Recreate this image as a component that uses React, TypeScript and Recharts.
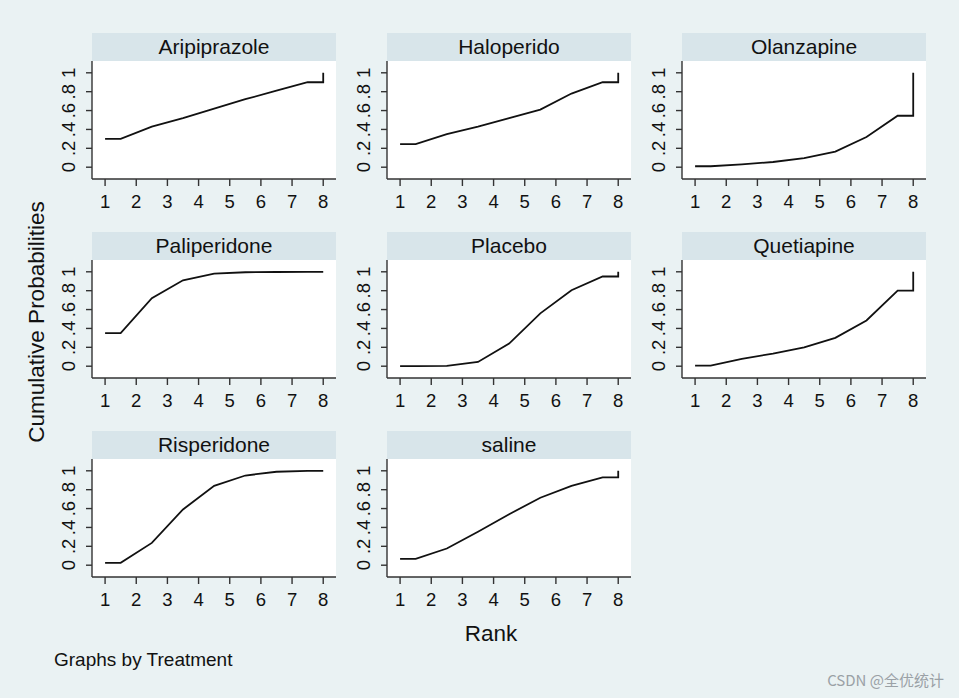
import { LineChart, Line, XAxis, YAxis, CartesianGrid } from "recharts";

// x positions of the cumulative-rank curve (flat start, midpoints, closing step at rank 8)
const rankX = [1, 1.5, 2.5, 3.5, 4.5, 5.5, 6.5, 7.5, 8, 8];
const rankTicks = [1, 2, 3, 4, 5, 6, 7, 8];
const probTicks = [0, 0.2, 0.4, 0.6, 0.8, 1];

const treatments = [
  "Aripiprazole",
  "Haloperido",
  "Olanzapine",
  "Paliperidone",
  "Placebo",
  "Quetiapine",
  "Risperidone",
  "saline",
];

const aripiprazole = [0.3, 0.3, 0.43, 0.52, 0.62, 0.72, 0.81, 0.9, 0.9, 1];
const haloperido = [0.245, 0.245, 0.35, 0.43, 0.52, 0.61, 0.78, 0.9, 0.9, 1];
const olanzapine = [0.01, 0.01, 0.03, 0.055, 0.095, 0.165, 0.32, 0.545, 0.545, 1];
const paliperidone = [0.35, 0.35, 0.72, 0.91, 0.98, 0.995, 0.998, 1, 1, 1];
const placebo = [0, 0, 0.003, 0.045, 0.24, 0.56, 0.805, 0.95, 0.95, 1];
const quetiapine = [0.007, 0.007, 0.078, 0.134, 0.2, 0.3, 0.485, 0.8, 0.8, 1];
const risperidone = [0.025, 0.025, 0.236, 0.59, 0.84, 0.95, 0.99, 1, 1, 1];
const saline = [0.067, 0.067, 0.177, 0.355, 0.54, 0.715, 0.84, 0.93, 0.93, 1];

const seriesValues = [
  aripiprazole,
  haloperido,
  olanzapine,
  paliperidone,
  placebo,
  quetiapine,
  risperidone,
  saline,
];

const FONT = 'Arial, "Liberation Sans", Helvetica, sans-serif';
const PLOT_W = 244;
const PLOT_H = 118;
const Y_AXIS_W = 60;
const X_AXIS_H = 40;
const STRIP_H = 28;

function probLabel(v: number) {
  if (v === 0) return "0";
  if (v === 1) return "1";
  return v.toFixed(1).replace(/^0/, "");
}

function YTick(props: any) {
  const { x, y, payload } = props;
  return (
    <text
      x={x}
      y={y}
      transform={`rotate(-90 ${x} ${y})`}
      textAnchor="middle"
      fontSize={18.5}
      fontFamily={FONT}
      fill="#111"
    >
      {probLabel(payload.value)}
    </text>
  );
}

function Panel({ name, values, left, top }: { name: string; values: number[]; left: number; top: number }) {
  const data = rankX.map((r, i) => ({ rank: r, p: values[i] }));
  return (
    <>
      <div
        style={{
          position: "absolute",
          left,
          top: top - STRIP_H,
          width: PLOT_W,
          height: STRIP_H,
          background: "#D8E5EA",
          fontFamily: FONT,
          fontSize: 21,
          color: "#111",
          textAlign: "center",
          lineHeight: `${STRIP_H}px`,
        }}
      >
        {name}
      </div>
      <div style={{ position: "absolute", left: left - Y_AXIS_W, top }}>
        <LineChart
          width={Y_AXIS_W + PLOT_W}
          height={PLOT_H + X_AXIS_H}
          data={data}
          margin={{ top: 0, right: 0, bottom: 0, left: 0 }}
        >
          <rect x={Y_AXIS_W} y={0} width={PLOT_W} height={PLOT_H} fill="#fff" />
          <CartesianGrid vertical={false} stroke="#E6EEF1" strokeWidth={1.5} />
          <XAxis
            type="number"
            dataKey="rank"
            domain={[0.58, 8.41]}
            ticks={rankTicks}
            interval={0}
            height={X_AXIS_H}
            tickSize={7}
            tickMargin={9}
            axisLine={{ stroke: "#333", strokeWidth: 1.4 }}
            tickLine={{ stroke: "#333", strokeWidth: 1.4 }}
            tick={{ fontSize: 18.5, fill: "#111", fontFamily: FONT }}
            allowDataOverflow
          />
          <YAxis
            type="number"
            domain={[-0.125, 1.125]}
            ticks={probTicks}
            interval={0}
            width={Y_AXIS_W}
            tickSize={6}
            tickMargin={11}
            axisLine={{ stroke: "#333", strokeWidth: 1.4 }}
            tickLine={{ stroke: "#333", strokeWidth: 1.4 }}
            tick={<YTick />}
            allowDataOverflow
          />
          <Line
            type="linear"
            dataKey="p"
            stroke="#111"
            strokeWidth={1.8}
            dot={false}
            isAnimationActive={false}
          />
        </LineChart>
      </div>
    </>
  );
}

export default function App() {
  return (
    <div
      style={{
        position: "absolute",
        left: 0,
        top: 0,
        width: 959,
        height: 698,
        background: "#EAF2F3",
        overflow: "hidden",
        fontFamily: FONT,
      }}
    >
      {treatments.map((name, i) => {
        const col = i % 3;
        const row = Math.floor(i / 3);
        return (
          <Panel
            key={name}
            name={name}
            values={seriesValues[i]}
            left={92 + col * 295}
            top={61 + row * 199}
          />
        );
      })}
      <svg width={959} height={698} style={{ position: "absolute", left: 0, top: 0, pointerEvents: "none" }}>
        <text
          x={44}
          y={322}
          transform="rotate(-90 44 322)"
          textAnchor="middle"
          fontSize={22.5}
          fontFamily={FONT}
          fill="#111"
        >
          Cumulative Probabilities
        </text>
        <text x={491} y={641} textAnchor="middle" fontSize={22.5} fontFamily={FONT} fill="#111">
          Rank
        </text>
        <text x={54} y={666} fontSize={19} fontFamily={FONT} fill="#111">
          Graphs by Treatment
        </text>
        <text x={944} y={686} textAnchor="end" fontSize={15} fontFamily={'"Noto Sans CJK SC", "Noto Sans", sans-serif'} fill="#9aa1a6">
          CSDN @全优统计
        </text>
      </svg>
    </div>
  );
}
